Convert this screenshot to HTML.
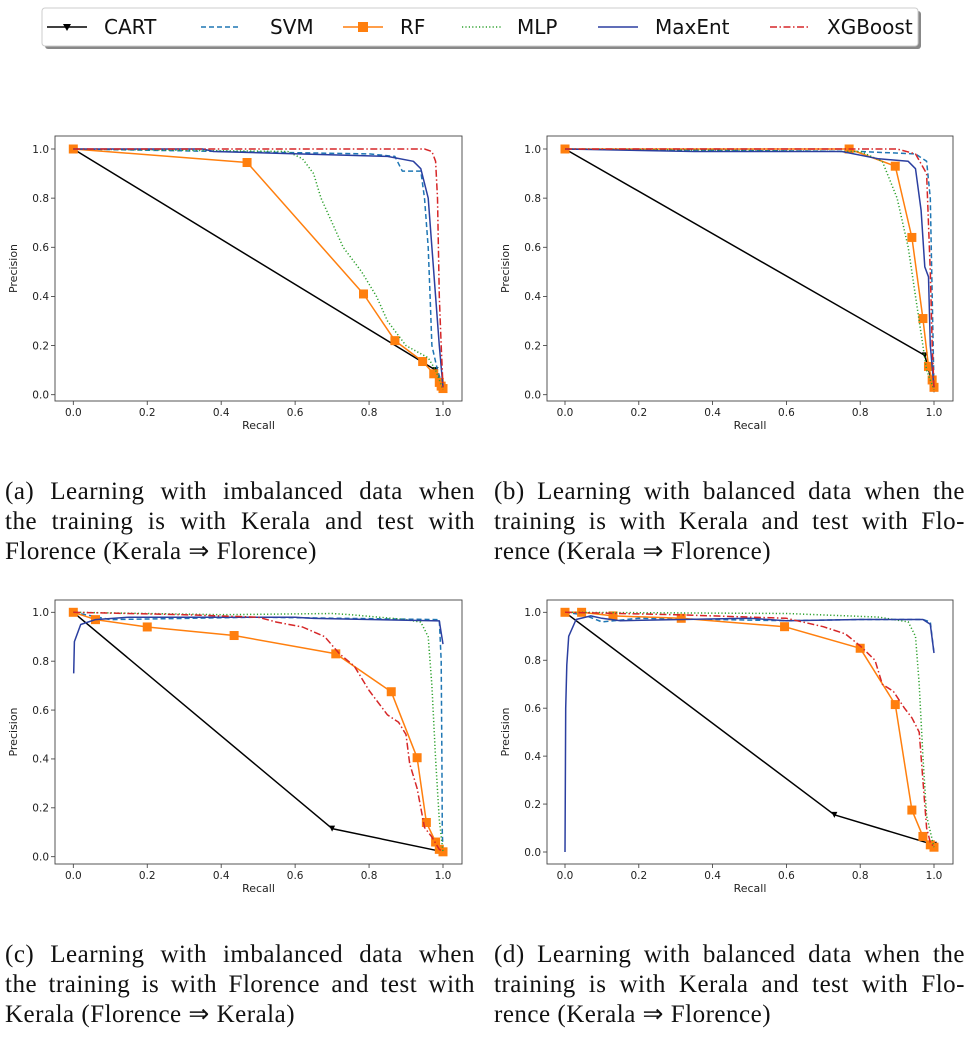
<!DOCTYPE html>
<html><head><meta charset="utf-8"><style>
body{margin:0;background:#fff;width:969px;height:1037px;overflow:hidden;position:relative;font-family:"Liberation Sans","DejaVu Sans",sans-serif}
svg{position:absolute;left:0;top:0}
.cap{position:absolute;font-family:"Liberation Serif",serif;font-size:25px;letter-spacing:0.5px;line-height:30px;color:#111}
.cap div{text-align:justify;text-align-last:justify;white-space:nowrap}
.cap div.last{text-align-last:left}
</style></head><body>
<svg id="chart" width="969" height="1037"></svg>
<div class="cap" style="left:5px;top:477px;width:470px"><div>(a) Learning with imbalanced data when</div><div>the training is with Kerala and test with</div><div class="last">Florence (Kerala ⇒ Florence)</div></div>
<div class="cap" style="left:494px;top:477px;width:471px"><div>(b) Learning with balanced data when the</div><div>training is with Kerala and test with Flo-</div><div class="last">rence (Kerala ⇒ Florence)</div></div>
<div class="cap" style="left:5px;top:940px;width:470px"><div>(c) Learning with imbalanced data when</div><div>the training is with Florence and test with</div><div class="last">Kerala (Florence ⇒ Kerala)</div></div>
<div class="cap" style="left:494px;top:940px;width:471px"><div>(d) Learning with balanced data when the</div><div>training is with Kerala and test with Flo-</div><div class="last">rence (Kerala ⇒ Florence)</div></div>
<script>
const seriesNames=["CART","SVM","RF","MLP","MaxEnt","XGBoost"];
const ticks=[0,0.2,0.4,0.6,0.8,1.0];
const tickLabels=["0.0","0.2","0.4","0.6","0.8","1.0"];
// panel a
const aCART=[[0,1],[0.98,0.1],[1,0.02]];
const aRF=[[0,1],[0.47,0.945],[0.785,0.41],[0.87,0.22],[0.945,0.135],[0.975,0.085],[0.99,0.05],[0.995,0.035],[1,0.025]];
const aMLP=[[0,1],[0.58,0.99],[0.62,0.96],[0.65,0.9],[0.67,0.8],[0.7,0.7],[0.73,0.6],[0.78,0.5],[0.82,0.4],[0.85,0.3],[0.9,0.2],[0.96,0.15],[0.98,0.1],[1,0.02]];
const aSVM=[[0,1],[0.8,0.98],[0.87,0.97],[0.89,0.91],[0.94,0.91],[0.95,0.8],[0.96,0.6],[0.965,0.4],[0.97,0.2],[0.985,0.1],[1,0.03]];
const aMaxEnt=[[0,1],[0.35,1],[0.38,0.99],[0.85,0.97],[0.92,0.95],[0.94,0.92],[0.96,0.8],[0.97,0.6],[0.98,0.4],[0.99,0.2],[1,0.03]];
const aXGB=[[0,1],[0.95,1],[0.97,0.99],[0.98,0.95],[0.985,0.8],[0.99,0.4],[0.995,0.2],[1,0.03]];
// panel b
const bCART=[[0,1],[0.975,0.16],[1,0.02]];
const bRF=[[0,1],[0.77,1],[0.895,0.93],[0.94,0.64],[0.97,0.31],[0.985,0.115],[0.995,0.06],[1,0.03]];
const bMLP=[[0,1],[0.8,0.99],[0.86,0.95],[0.9,0.8],[0.93,0.6],[0.96,0.3],[0.98,0.1],[1,0.02]];
const bSVM=[[0,1],[0.8,0.99],[0.95,0.98],[0.98,0.95],[0.99,0.8],[0.995,0.4],[1,0.03]];
const bMaxEnt=[[0,1],[0.35,0.99],[0.75,0.99],[0.85,0.96],[0.93,0.95],[0.95,0.92],[0.965,0.75],[0.975,0.52],[0.985,0.48],[0.99,0.2],[1,0.03]];
const bXGB=[[0,1],[0.9,1],[0.95,0.98],[0.98,0.9],[0.99,0.5],[0.995,0.2],[1,0.03]];
// panel c
const cCART=[[0,1],[0.7,0.115],[1,0.02]];
const cRF=[[0,1],[0.06,0.97],[0.2,0.94],[0.435,0.905],[0.71,0.83],[0.86,0.675],[0.93,0.405],[0.955,0.14],[0.98,0.06],[0.99,0.03],[1,0.02]];
const cMLP=[[0,1],[0.4,0.99],[0.7,0.995],[0.75,0.99],[0.9,0.97],[0.94,0.96],[0.96,0.9],[0.97,0.7],[0.98,0.4],[0.99,0.15],[1,0.02]];
const cSVM=[[0,1],[0.1,0.97],[0.5,0.98],[0.99,0.97],[0.995,0.8],[0.997,0.4],[0.998,0.1],[1,0.02]];
const cMaxEnt=[[0.001,0.75],[0.003,0.88],[0.02,0.95],[0.06,0.97],[0.15,0.98],[0.6,0.98],[0.65,0.975],[0.99,0.965],[1,0.87]];
const cXGB=[[0,1],[0.3,0.99],[0.5,0.98],[0.55,0.96],[0.62,0.94],[0.68,0.9],[0.72,0.83],[0.76,0.78],[0.8,0.68],[0.85,0.58],[0.88,0.55],[0.9,0.5],[0.91,0.38],[0.93,0.28],[0.94,0.2],[0.95,0.12],[0.97,0.08],[0.99,0.03],[1,0.02]];
// panel d
const dCART=[[0,1],[0.73,0.155],[1,0.03]];
const dRF=[[0,1],[0.045,1],[0.13,0.985],[0.315,0.975],[0.595,0.94],[0.8,0.85],[0.895,0.615],[0.94,0.175],[0.97,0.065],[0.99,0.03],[1,0.02]];
const dMLP=[[0,1],[0.6,0.995],[0.85,0.98],[0.93,0.96],[0.95,0.9],[0.96,0.7],[0.97,0.4],[0.98,0.15],[1,0.02]];
const dSVM=[[0,1],[0.05,0.99],[0.1,0.96],[0.2,0.975],[0.6,0.965],[0.8,0.97],[0.97,0.97],[0.99,0.96],[1,0.83]];
const dMaxEnt=[[0,0],[0.002,0.6],[0.005,0.78],[0.01,0.9],[0.03,0.97],[0.07,0.985],[0.1,0.975],[0.15,0.965],[0.5,0.975],[0.6,0.965],[0.8,0.97],[0.97,0.97],[0.99,0.95],[1,0.83]];
const dXGB=[[0,1],[0.3,0.99],[0.6,0.975],[0.7,0.94],[0.76,0.91],[0.8,0.86],[0.84,0.8],[0.86,0.7],[0.89,0.67],[0.92,0.6],[0.94,0.56],[0.96,0.5],[0.97,0.3],[0.98,0.1],[0.99,0.04],[1,0.02]];

const styles={CART:{c:"#000",d:""},SVM:{c:"#1f77b4",d:"5,3"},RF:{c:"#ff7f0e",d:""},MLP:{c:"#2ca02c",d:"1.2,2.2"},MaxEnt:{c:"#2b3fa0",d:""},XGBoost:{c:"#d62728",d:"7,2.5,1.5,2.5"}};
const NS="http://www.w3.org/2000/svg";
const svg=document.getElementById("chart");
function mk(tag,attrs,parent){const e=document.createElementNS(NS,tag);for(const k in attrs)e.setAttribute(k,attrs[k]);(parent||svg).appendChild(e);return e;}

const panels=[
 {id:"a",box:[55,136,462,401],x0:73.3,x1:443,y0:394.7,y1:149,data:{CART:aCART,SVM:aSVM,RF:aRF,MLP:aMLP,MaxEnt:aMaxEnt,XGBoost:aXGB}},
 {id:"b",box:[547,136,953,401],x0:565,x1:934,y0:394.7,y1:149,data:{CART:bCART,SVM:bSVM,RF:bRF,MLP:bMLP,MaxEnt:bMaxEnt,XGBoost:bXGB}},
 {id:"c",box:[55,600,462,864],x0:73.3,x1:443,y0:856.7,y1:612.3,data:{CART:cCART,SVM:cSVM,RF:cRF,MLP:cMLP,MaxEnt:cMaxEnt,XGBoost:cXGB}},
 {id:"d",box:[547,600,953,864],x0:565,x1:934,y0:852,y1:612.3,data:{CART:dCART,SVM:dSVM,RF:dRF,MLP:dMLP,MaxEnt:dMaxEnt,XGBoost:dXGB}}
];
const order=["CART","SVM","RF","MLP","MaxEnt","XGBoost"];
panels.forEach(p=>{
 const g=mk("g",{});
 
 
 const sx=v=>p.x0+(p.x1-p.x0)*v, sy=v=>p.y0+(p.y1-p.y0)*v;
 const [L,T,R,B]=p.box;
 ticks.forEach((t,i)=>{
  mk("line",{x1:sx(t),x2:sx(t),y1:B,y2:B+4,stroke:"#333","stroke-width":0.8},g);
  const tx=mk("text",{x:sx(t),y:B+15,"font-size":10.5,"text-anchor":"middle",fill:"#222","font-family":"DejaVu Sans, sans-serif"},g);
  tx.textContent=tickLabels[i];
  
  
  mk("line",{x1:L-4,x2:L,y1:sy(t),y2:sy(t),stroke:"#333","stroke-width":0.8},g);
  const ty=mk("text",{x:L-6,y:sy(t)+3.8,"font-size":10.5,"text-anchor":"end",fill:"#222","font-family":"DejaVu Sans, sans-serif"},g);
  ty.textContent=tickLabels[i];
  
  
 });
 const xl=mk("text",{x:(L+R)/2,y:B+28,"font-size":11,"text-anchor":"middle",fill:"#222","font-family":"DejaVu Sans, sans-serif"},g);
 xl.textContent="Recall";
 
 
 const yl=mk("text",{x:0,y:0,"font-size":11,"text-anchor":"middle",fill:"#222","font-family":"DejaVu Sans, sans-serif",transform:`translate(${L-38},${(T+B)/2}) rotate(-90)`},g);
 yl.textContent="Precision";
 
 
 order.forEach(n=>{
  const pts=p.data[n], st=styles[n];
  const pl=mk("polyline",{points:pts.map(q=>sx(q[0]).toFixed(1)+","+sy(q[1]).toFixed(1)).join(" "),fill:"none",stroke:st.c,"stroke-width":1.5,"stroke-dasharray":st.d,"stroke-linejoin":"round"},g);
  
  
  if(n==="RF"){pts.forEach(q=>{const r=mk("rect",{x:sx(q[0])-4.5,y:sy(q[1])-4.5,width:9,height:9,fill:st.c},g);
   
   });}
  if(n==="CART"){pts.forEach(q=>{const x=sx(q[0]),y=sy(q[1]);const m=mk("polygon",{points:`${x-3},${y-3} ${x+3},${y-3} ${x},${y+3}`,fill:"#000"},g);
   
   });}
 });
 const fr=mk("rect",{x:L,y:T,width:R-L,height:B-T,fill:"none",stroke:"#444","stroke-width":0.9},g);
 
 
});
// legend
const lg=mk("g",{});


mk("rect",{x:45,y:11,width:876,height:38,fill:"#888",rx:3},lg);
mk("rect",{x:42,y:8,width:876,height:38,fill:"#fff",stroke:"#ccc",rx:3},lg);
const lx=[47,201,343,462,598,770], tx=[104,270,400,517,655,827];
order.forEach((n,i)=>{
 const st=styles[n];const y=27;
 const e=mk("g",{},lg);
 
 
 mk("line",{x1:lx[i],x2:lx[i]+40,y1:y,y2:y,stroke:st.c,"stroke-width":1.6,"stroke-dasharray":st.d},e);
 if(n==="RF")mk("rect",{x:lx[i]+15,y:y-5,width:10,height:10,fill:st.c},e);
 if(n==="CART")mk("polygon",{points:`${lx[i]+16},${y-3} ${lx[i]+24},${y-3} ${lx[i]+20},${y+4}`,fill:"#000"},e);
 const t=mk("text",{x:tx[i],y:y+7,"font-size":20,fill:"#111","font-family":"DejaVu Sans, sans-serif"},e);
 t.textContent=n;
});
</script>
</body></html>
